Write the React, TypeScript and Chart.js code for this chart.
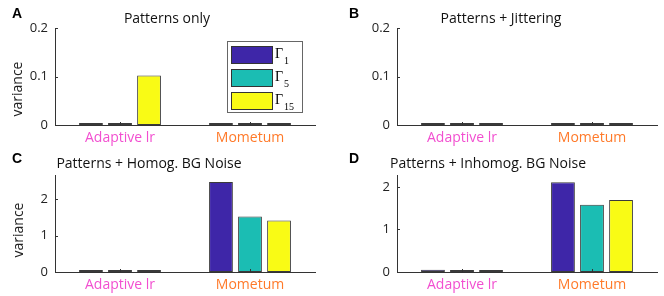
import React, { useEffect, useRef } from "react";
import { Chart, registerables } from "chart.js";

Chart.register(...registerables);

// ---- data ----
const categories = ["Adaptive lr", "Mometum"];
const categoryColors = ["#f24fd0", "#ff7a2a"];
const seriesNames = ["1", "5", "15"]; // subscripts of Γ
const seriesColors = ["#3e26a8", "#1bbdb3", "#f9fb15"];

const patternsOnlyG1 = [0, 0];
const patternsOnlyG5 = [0, 0];
const patternsOnlyG15 = [0.102, 0];

const jitterG1 = [0, 0];
const jitterG5 = [0, 0];
const jitterG15 = [0, 0];

const homogG1 = [0.03, 2.47];
const homogG5 = [0.03, 1.52];
const homogG15 = [0.03, 1.41];

const inhomogG1 = [0.05, 2.11];
const inhomogG5 = [0.03, 1.58];
const inhomogG15 = [0.03, 1.69];

const ticksSmall = [0, 0.1, 0.2];
const ticksLarge = [0, 1, 2];

const SANS = "'Open Sans', 'Noto Sans', sans-serif";
const AXIS = "#333333";

type Panel = {
  letter: string;
  title: string;
  yLabel: boolean;
  series: number[][];
  yMax: number;
  yTicks: number[];
  left: number;
  top: number;
  area: { l: number; r: number; t: number; b: number };
  titleX: number;
  titleY: number;
  letterX: number;
  letterY: number;
  yLabelX: number;
  yLabelY: number;
  legend: boolean;
};

const W = 332;
const H = 148;

const panels: Panel[] = [
  {
    letter: "A", title: "Patterns only", yLabel: true,
    series: [patternsOnlyG1, patternsOnlyG5, patternsOnlyG15],
    yMax: 0.2, yTicks: ticksSmall, left: 0, top: 0,
    area: { l: 55, r: 315, t: 28, b: 125 },
    titleX: 167, titleY: 23, letterX: 12, letterY: 18, yLabelX: 22, yLabelY: 89, legend: true,
  },
  {
    letter: "B", title: "Patterns + Jittering", yLabel: false,
    series: [jitterG1, jitterG5, jitterG15],
    yMax: 0.2, yTicks: ticksSmall, left: 332, top: 0,
    area: { l: 65, r: 325, t: 28, b: 125 },
    titleX: 169, titleY: 23, letterX: 17, letterY: 18, yLabelX: 0, yLabelY: 0, legend: false,
  },
  {
    letter: "C", title: "Patterns + Homog. BG Noise", yLabel: true,
    series: [homogG1, homogG5, homogG15],
    yMax: 2.66, yTicks: ticksLarge, left: 0, top: 148,
    area: { l: 55, r: 315, t: 27, b: 124 },
    titleX: 149, titleY: 20, letterX: 12, letterY: 15, yLabelX: 23, yLabelY: 82, legend: false,
  },
  {
    letter: "D", title: "Patterns + Inhomog. BG Noise", yLabel: false,
    series: [inhomogG1, inhomogG5, inhomogG15],
    yMax: 2.28, yTicks: ticksLarge, left: 332, top: 148,
    area: { l: 65, r: 325, t: 27, b: 124 },
    titleX: 156, titleY: 20, letterX: 17, letterY: 15, yLabelX: 0, yLabelY: 0, legend: false,
  },
];

function makeDecor(p: Panel) {
  return {
    id: "decor" + p.letter,
    afterDraw(chart: any) {
      const ctx = chart.ctx as CanvasRenderingContext2D;
      const ca = chart.chartArea;
      ctx.save();
      // inward tick marks
      ctx.strokeStyle = AXIS;
      ctx.lineWidth = 1;
      const ys = chart.scales.y;
      ys.ticks.forEach((t: any) => {
        const py = Math.round(ys.getPixelForValue(t.value)) + 0.5;
        ctx.beginPath();
        ctx.moveTo(ca.left, py);
        ctx.lineTo(ca.left + 3, py);
        ctx.stroke();
      });
      const xs = chart.scales.x;
      categories.forEach((_, i) => {
        const px = Math.round(xs.getPixelForValue(i)) + 0.5;
        ctx.beginPath();
        ctx.moveTo(px, ca.bottom);
        ctx.lineTo(px, ca.bottom - 3);
        ctx.stroke();
      });
      // panel letter
      ctx.fillStyle = "#000";
      ctx.textBaseline = "alphabetic";
      ctx.textAlign = "left";
      ctx.font = "bold 14px 'Liberation Sans', Arial, sans-serif";
      ctx.fillText(p.letter, p.letterX, p.letterY);
      // title
      ctx.font = "14px " + SANS;
      ctx.textAlign = "center";
      ctx.fillStyle = "#111";
      ctx.fillText(p.title, p.titleX, p.titleY);
      // y label
      if (p.yLabel) {
        ctx.save();
        ctx.translate(p.yLabelX, p.yLabelY);
        ctx.rotate(-Math.PI / 2);
        ctx.textAlign = "center";
        ctx.font = "14px " + SANS;
        ctx.fillStyle = "#222";
        ctx.fillText("variance", 0, 0);
        ctx.restore();
      }
      // legend
      if (p.legend) {
        ctx.fillStyle = "#fff";
        ctx.fillRect(227, 41, 76, 72);
        ctx.strokeStyle = "#666";
        ctx.strokeRect(227.5, 41.5, 75, 71);
        const tops = [46, 69, 91.5];
        seriesNames.forEach((s, i) => {
          const ty = Math.round(tops[i]);
          ctx.fillStyle = seriesColors[i];
          ctx.fillRect(231, ty, 42, 18);
          ctx.strokeStyle = "#333";
          ctx.strokeRect(231.5, ty + 0.5, 41, 17);
          ctx.fillStyle = "#000";
          ctx.textAlign = "left";
          ctx.font = "14px 'Liberation Serif', 'Times New Roman', serif";
          ctx.fillText("Γ", 275, ty + 12);
          ctx.font = "10px 'Liberation Serif', 'Times New Roman', serif";
          ctx.fillText(s, 284, ty + 18);
        });
      }
      ctx.restore();
    },
  };
}

function PanelChart({ p }: { p: Panel }) {
  const ref = useRef<HTMLCanvasElement>(null);
  useEffect(() => {
    if (!ref.current) return;
    const chart = new Chart(ref.current, {
      type: "bar",
      data: {
        labels: categories,
        datasets: p.series.map((d, i) => ({
          label: "Γ" + seriesNames[i],
          data: d,
          backgroundColor: seriesColors[i],
          borderColor: "#3a3a3a",
          borderWidth: 1,
          borderSkipped: false,
          minBarLength: 2,
          categoryPercentage: 0.67,
          barPercentage: 0.82,
        })),
      },
      options: {
        animation: false,
        responsive: false,
        maintainAspectRatio: false,
        devicePixelRatio: 1,
        layout: {
          padding: { left: 0, top: p.area.t, right: W - p.area.r, bottom: 0 },
        },
        plugins: {
          legend: { display: false },
          title: { display: false },
          tooltip: { enabled: false },
        },
        scales: {
          x: {
            offset: true,
            grid: { display: false, drawTicks: false },
            border: { display: true, color: AXIS, width: 1 },
            ticks: {
              padding: 5,
              font: { family: SANS, size: 14 },
              color: (ctx: any) => categoryColors[ctx.index] || "#000",
              maxRotation: 0,
              autoSkip: false,
            },
            afterFit: (s: any) => { s.height = H - p.area.b; },
          },
          y: {
            min: 0,
            max: p.yMax,
            grid: { display: false, drawTicks: false },
            border: { display: true, color: AXIS, width: 1 },
            ticks: {
              padding: 7,
              font: { family: SANS, size: 13 },
              color: "#222",
              callback: (v: any) => String(v),
            },
            afterBuildTicks: (s: any) => { s.ticks = p.yTicks.map((v) => ({ value: v })); },
            afterFit: (s: any) => { s.width = p.area.l; },
          },
        },
      },
      plugins: [makeDecor(p)],
    });
    return () => chart.destroy();
  }, [p]);
  return (
    <canvas
      ref={ref}
      width={W}
      height={H}
      style={{ position: "absolute", left: p.left, top: p.top, width: W, height: H }}
    />
  );
}

export default function App() {
  return (
    <div style={{ position: "absolute", left: 0, top: 0, width: 664, height: 296, background: "#fff" }}>
      {panels.map((p) => (
        <PanelChart key={p.letter} p={p} />
      ))}
    </div>
  );
}
